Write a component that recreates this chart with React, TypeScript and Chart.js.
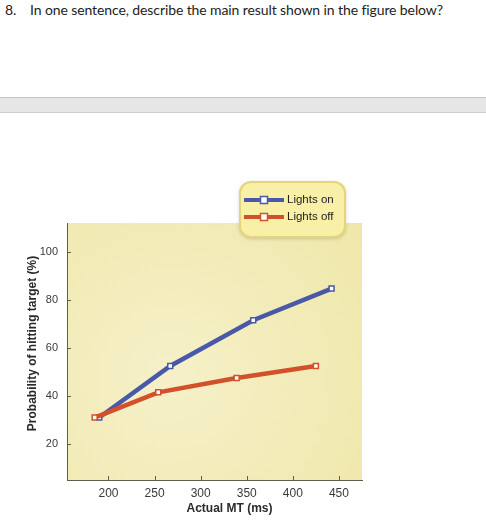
import React, { useEffect, useRef } from 'react';
import { Chart, registerables, Plugin } from 'chart.js';

Chart.register(...registerables);

const xTicks = [200, 250, 300, 350, 400, 450];
const yTicks = [20, 40, 60, 80, 100];

const lightsOnMT = [190, 267, 357, 442];
const lightsOnHit = [31, 52.5, 71.5, 84.7];
const lightsOffMT = [185, 254, 339, 425];
const lightsOffHit = [31, 41.5, 47.5, 52.5];

const seriesLabels = ['Lights on', 'Lights off'];
const BLUE = '#4a58a8';
const RED = '#d2502a';

const xTitle = 'Actual MT (ms)';
const yTitle = 'Probability of hitting target (%)';

// plot background, inward tick marks, axis titles and the rounded legend box
const decorPlugin: Plugin<'line'> = {
  id: 'decor',
  beforeDraw(chart) {
    const { ctx, chartArea: a } = chart;
    const cx = a.left + a.width * 0.35;
    const cy = a.top + a.height * 0.6;
    const g = ctx.createRadialGradient(cx, cy, 10, cx, cy, a.width * 0.85);
    g.addColorStop(0, '#f5f0c8');
    g.addColorStop(1, '#efe7a9');
    ctx.save();
    ctx.fillStyle = g;
    ctx.fillRect(a.left, a.top, a.width, a.height);
    ctx.restore();
  },
  afterDraw(chart) {
    const { ctx, chartArea: a, scales } = chart;
    const xs = scales.x;
    const ys = scales.y;
    ctx.save();
    ctx.strokeStyle = '#5e5e50';
    ctx.lineWidth = 1;
    xTicks.forEach((v) => {
      const px = Math.round(xs.getPixelForValue(v)) + 0.5;
      ctx.beginPath();
      ctx.moveTo(px, a.bottom);
      ctx.lineTo(px, a.bottom - 4);
      ctx.stroke();
    });
    yTicks.forEach((v) => {
      const py = Math.round(ys.getPixelForValue(v)) + 0.5;
      ctx.beginPath();
      ctx.moveTo(a.left, py);
      ctx.lineTo(a.left + 4, py);
      ctx.stroke();
    });

    // axis titles
    ctx.fillStyle = '#2a2a2a';
    ctx.font = 'bold 12px "Liberation Sans", Arial, sans-serif';
    ctx.textAlign = 'center';
    ctx.textBaseline = 'middle';
    ctx.fillText(xTitle, a.left + a.width / 2 + 15, a.bottom + 29);
    ctx.save();
    ctx.translate(33, a.top + a.height / 2 - 8);
    ctx.rotate(-Math.PI / 2);
    ctx.fillText(yTitle, 0, 0);
    ctx.restore();

    // legend box
    const bx = a.left + 173;
    const by = a.top - 41;
    const bw = 105;
    const bh = 55;
    ctx.save();
    ctx.shadowColor = 'rgba(0,0,0,0.25)';
    ctx.shadowBlur = 4;
    ctx.shadowOffsetY = 1;
    ctx.beginPath();
    ctx.roundRect(bx, by, bw, bh, 11);
    ctx.fillStyle = '#f8f0a6';
    ctx.fill();
    ctx.restore();
    ctx.beginPath();
    ctx.roundRect(bx, by, bw, bh, 11);
    ctx.lineWidth = 2;
    ctx.strokeStyle = '#e6d47a';
    ctx.stroke();

    chart.data.datasets.forEach((ds, i) => {
      const ly = by + 18 + i * 17;
      const color = ds.borderColor as string;
      ctx.strokeStyle = color;
      ctx.lineWidth = 4;
      ctx.beginPath();
      ctx.moveTo(bx + 4, ly);
      ctx.lineTo(bx + 44, ly);
      ctx.stroke();
      ctx.fillStyle = '#ffffff';
      ctx.lineWidth = 1.5;
      ctx.fillRect(bx + 20.5, ly - 3.5, 7, 7);
      ctx.strokeRect(bx + 20.5, ly - 3.5, 7, 7);
      ctx.fillStyle = '#222222';
      ctx.font = '11.5px "Liberation Sans", Arial, sans-serif';
      ctx.textAlign = 'left';
      ctx.fillText(ds.label as string, bx + 47, ly);
    });
    ctx.restore();
  },
};

function ProbabilityChart() {
  const canvasRef = useRef<HTMLCanvasElement>(null);
  const chartInstance = useRef<Chart<'line'> | null>(null);

  useEffect(() => {
    if (!canvasRef.current) return;
    const ctx = canvasRef.current.getContext('2d');
    if (!ctx) return;

    const fontFamily = '"Liberation Sans", Arial, sans-serif';

    chartInstance.current = new Chart(ctx, {
      type: 'line',
      data: {
        datasets: [
          {
            label: seriesLabels[0],
            data: lightsOnMT.map((x, i) => ({ x, y: lightsOnHit[i] })),
            borderColor: BLUE,
            borderWidth: 4.5,
            pointStyle: 'rect',
            pointRadius: 3.5,
            pointBackgroundColor: '#ffffff',
            pointBorderColor: BLUE,
            pointBorderWidth: 1.5,
            order: 1,
          },
          {
            label: seriesLabels[1],
            data: lightsOffMT.map((x, i) => ({ x, y: lightsOffHit[i] })),
            borderColor: RED,
            borderWidth: 4.5,
            pointStyle: 'rect',
            pointRadius: 3.5,
            pointBackgroundColor: '#ffffff',
            pointBorderColor: RED,
            pointBorderWidth: 1.5,
            order: 0,
          },
        ],
      },
      options: {
        responsive: false,
        animation: false,
        layout: { padding: { top: 83, right: 124, bottom: 0, left: 0 } },
        plugins: {
          legend: { display: false },
          tooltip: { enabled: false },
        },
        scales: {
          x: {
            type: 'linear',
            min: 155,
            max: 475,
            afterBuildTicks: (scale) => {
              scale.ticks = xTicks.map((value) => ({ value }));
            },
            afterFit: (scale) => {
              scale.height = 48;
            },
            grid: { display: false, drawTicks: false },
            border: { display: true, color: '#5e5e50', width: 1 },
            ticks: { color: '#3a3a3a', font: { family: fontFamily, size: 12 }, padding: 6, maxRotation: 0 },
          },
          y: {
            type: 'linear',
            min: 5,
            max: 112,
            afterBuildTicks: (scale) => {
              scale.ticks = yTicks.map((value) => ({ value }));
            },
            afterFit: (scale) => {
              scale.width = 67;
            },
            grid: { display: false, drawTicks: false },
            border: { display: true, color: '#5e5e50', width: 1 },
            ticks: { color: '#3a3a3a', font: { family: fontFamily, size: 11 }, padding: 9 },
          },
        },
      },
      plugins: [decorPlugin],
    });

    return () => {
      chartInstance.current?.destroy();
    };
  }, []);

  return <canvas ref={canvasRef} width={486} height={388} style={{ position: 'absolute', left: 0, top: 140 }} />;
}

const headerFont: React.CSSProperties = {
  position: 'absolute',
  top: 1,
  font: '14px Lato, "Open Sans", sans-serif',
  fontVariantLigatures: 'none',
  color: '#222',
  lineHeight: '18px',
  whiteSpace: 'nowrap',
};

export default function App() {
  return (
    <div style={{ position: 'absolute', left: 0, top: 0, width: 486, height: 528, background: '#ffffff', overflow: 'hidden' }}>
      <div style={{ ...headerFont, left: 5 }}>8.</div>
      <div style={{ ...headerFont, left: 30, letterSpacing: '-0.1px' }}>
        In one sentence, describe the main result shown in the figure below?
      </div>
      <div style={{ position: 'absolute', top: 97, left: 0, width: 486, height: 14, background: '#e6e6e6', borderTop: '1px solid #c4c4c4', borderBottom: '1px solid #cdcdcd' }} />
      <ProbabilityChart />
    </div>
  );
}
